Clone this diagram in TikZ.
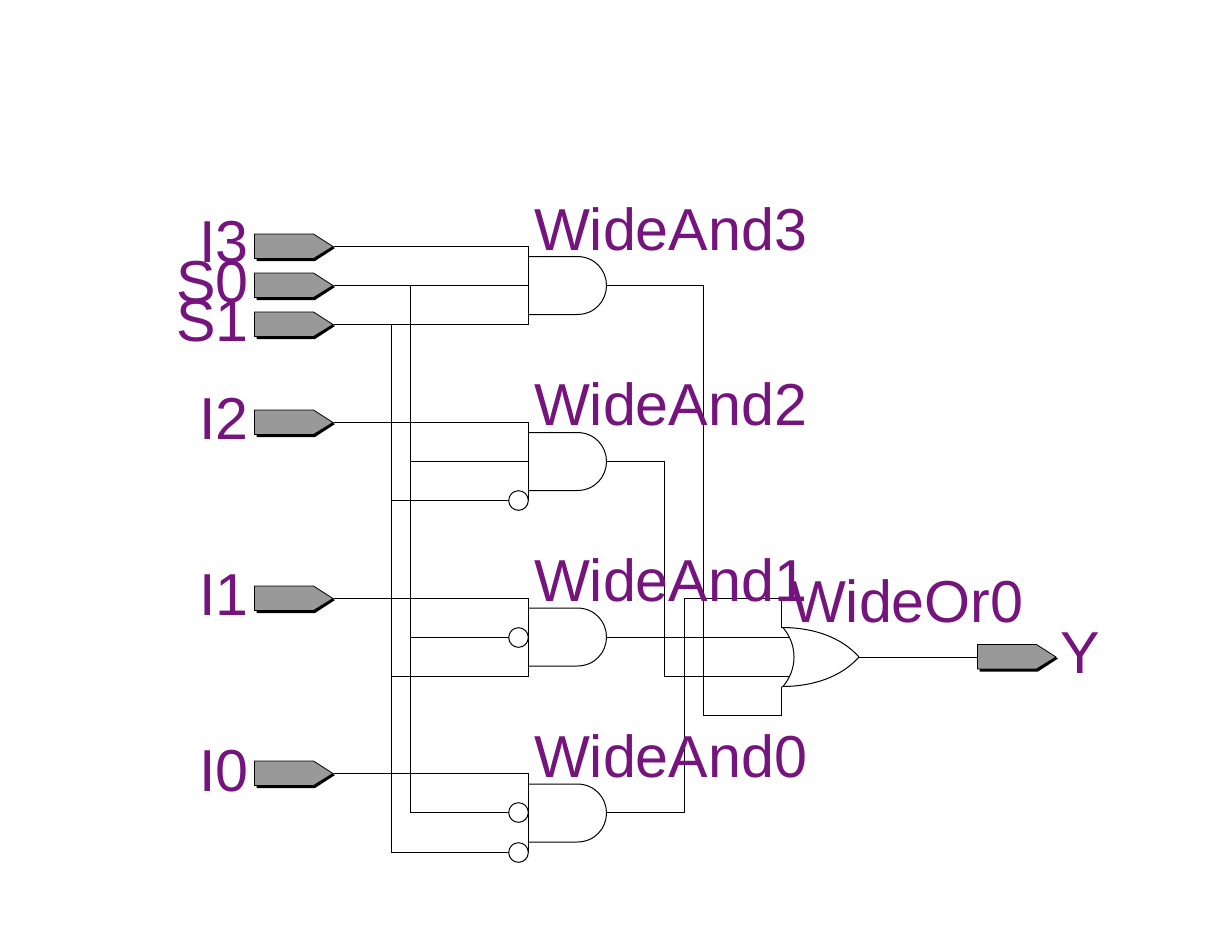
\documentclass[tikz,border=0pt]{standalone}
\usepackage{fontspec}
\setmainfont{Liberation Sans}
\definecolor{lbl}{HTML}{75147D}
\definecolor{portgray}{HTML}{999999}
\tikzset{
  wire/.style={draw=black,line width=1pt,line join=miter},
  txt/.style={text=lbl,font=\fontsize{59.2}{61}\selectfont,inner sep=0pt,outer sep=0pt},
  txtw/.style={txt,anchor=base west},
  txte/.style={txt,anchor=base east},
  bubble/.style={circle,draw=black,line width=1pt,fill=white,minimum size=19.6pt,inner sep=0pt,outer sep=0pt},
}
% port: #1 name, #2 left x, #3 axis y
\newcommand{\portshape}[3]{%
  \fill[black] (#2+2,#3-9) -- (#2+60,#3-9) -- (#2+80.5,#3+1.5) -- (#2+60.5,#3+14.5) -- (#2+2,#3+14.5) -- cycle;
  \filldraw[fill=portgray,draw=black,line width=0.8pt] (#2,#3-12.5) -- (#2+59,#3-12.5) -- (#2+78.5,#3) -- (#2+59,#3+12) -- (#2,#3+12) -- cycle;
  \coordinate (#1) at (#2+79,#3);
  \coordinate (#1L) at (#2,#3);
}
% and gate: #1 name, #2 centre y
\newcommand{\andgate}[2]{%
  \draw[wire] (528.5,#2-29) -- (577,#2-29) .. controls (595,#2-29) and (606.5,#2-15) .. (606.5,#2) .. controls (606.5,#2+15) and (595,#2+29) .. (577,#2+29) -- (528.5,#2+29);
  \coordinate (#1) at (606.5,#2);
}
\begin{document}
\begin{tikzpicture}[x=1pt,y=-1pt]
\useasboundingbox (0,0) rectangle (1230,940);
\coordinate (s0bus) at (410.5,285.5);
\coordinate (s1bus) at (391.5,324.5);

% gates
\andgate{and3}{285.5}
\andgate{and2}{461.5}
\andgate{and1}{637}
\andgate{and0}{813}

% OR gate
\draw[wire] (781.5,627.5) .. controls (815,627.5) and (842,638) .. (859,657) .. controls (842,676) and (815,686.5) .. (781.5,686.5);
\draw[wire] (783,627.5) .. controls (790,636) and (794,646) .. (794,657) .. controls (794,668) and (790,678) .. (783,686.5);
\coordinate (orO) at (859,657);
\coordinate (orT) at (781.5,627.5);
\coordinate (orB) at (781.5,686.5);
\coordinate (orA) at (789,637.5);
\coordinate (orC) at (789,676.5);

% ports
\portshape{pI3}{254.5}{246.5}
\portshape{pS0}{254.5}{285.5}
\portshape{pS1}{254.5}{324.5}
\portshape{pI2}{254.5}{422.5}
\portshape{pI1}{254.5}{598.5}
\portshape{pI0}{254.5}{773.5}
\portshape{pY}{977.5}{657}

% bubbles
\node[bubble] (b2) at (518.5,500.5) {};
\node[bubble] (b1) at (518.5,637.5) {};
\node[bubble] (b0a) at (518.5,812.5) {};
\node[bubble] (b0b) at (518.5,852.5) {};

% input bars
\draw[wire] (528.5,246.5) -- (528.5,324.5);
\draw[wire] (528.5,422.5) -- (528.5,500.5);
\draw[wire] (528.5,598.5) -- (528.5,676.5);
\draw[wire] (528.5,773.5) -- (528.5,852.5);

% input wires
\draw[wire] (pI3) -- (528.5,246.5);
\draw[wire] (pS0) -- (528.5,285.5);
\draw[wire] (pS1) -- (528.5,324.5);
\draw[wire] (pI2) -- (528.5,422.5);
\draw[wire] (pI1) -- (528.5,598.5);
\draw[wire] (pI0) -- (528.5,773.5);

% select buses
\draw[wire] (s0bus) -- (410.5,812.5) -- (b0a.west);
\draw[wire] (s1bus) -- (391.5,852.5) -- (b0b.west);
\draw[wire] (410.5,461.5) -- (528.5,461.5);
\draw[wire] (391.5,500.5) -- (b2.west);
\draw[wire] (410.5,637.5) -- (b1.west);
\draw[wire] (391.5,676.5) -- (528.5,676.5);

% outputs
\draw[wire] (and3) -- (703.5,285.5) -- (703.5,715.5) -- (781.5,715.5) -- (orB);
\draw[wire] (and2) -- (664.5,461.5) -- (664.5,676.5) -- (orC);
\draw[wire] (606.5,637.5) -- (orA);
\draw[wire] (606.5,812.5) -- (684.5,812.5) -- (684.5,598.5) -- (781.5,598.5) -- (orT);
\draw[wire] (orO) -- (pYL);

% labels
\node[txte] (tI3) at (248.5,262.5) {I3};
\node[txte] (tS0) at (248.5,302) {S0};
\node[txte] (tS1) at (248.5,341) {S1};
\node[txte] (tI2) at (248.5,439) {I2};
\node[txte] (tI1) at (248.5,615) {I1};
\node[txte] (tI0) at (248.5,791) {I0};
\node[txtw] (tY) at (1060,673) {Y};
\node[txtw] (tA3) at (534,250) {WideAnd3};
\node[txtw] (tA2) at (534,425) {WideAnd2};
\node[txtw] (tA1) at (534,601) {WideAnd1};
\node[txtw] (tA0) at (534,777) {WideAnd0};
\node[txtw] (tO) at (790,622) {WideOr0};
\end{tikzpicture}
\end{document}
